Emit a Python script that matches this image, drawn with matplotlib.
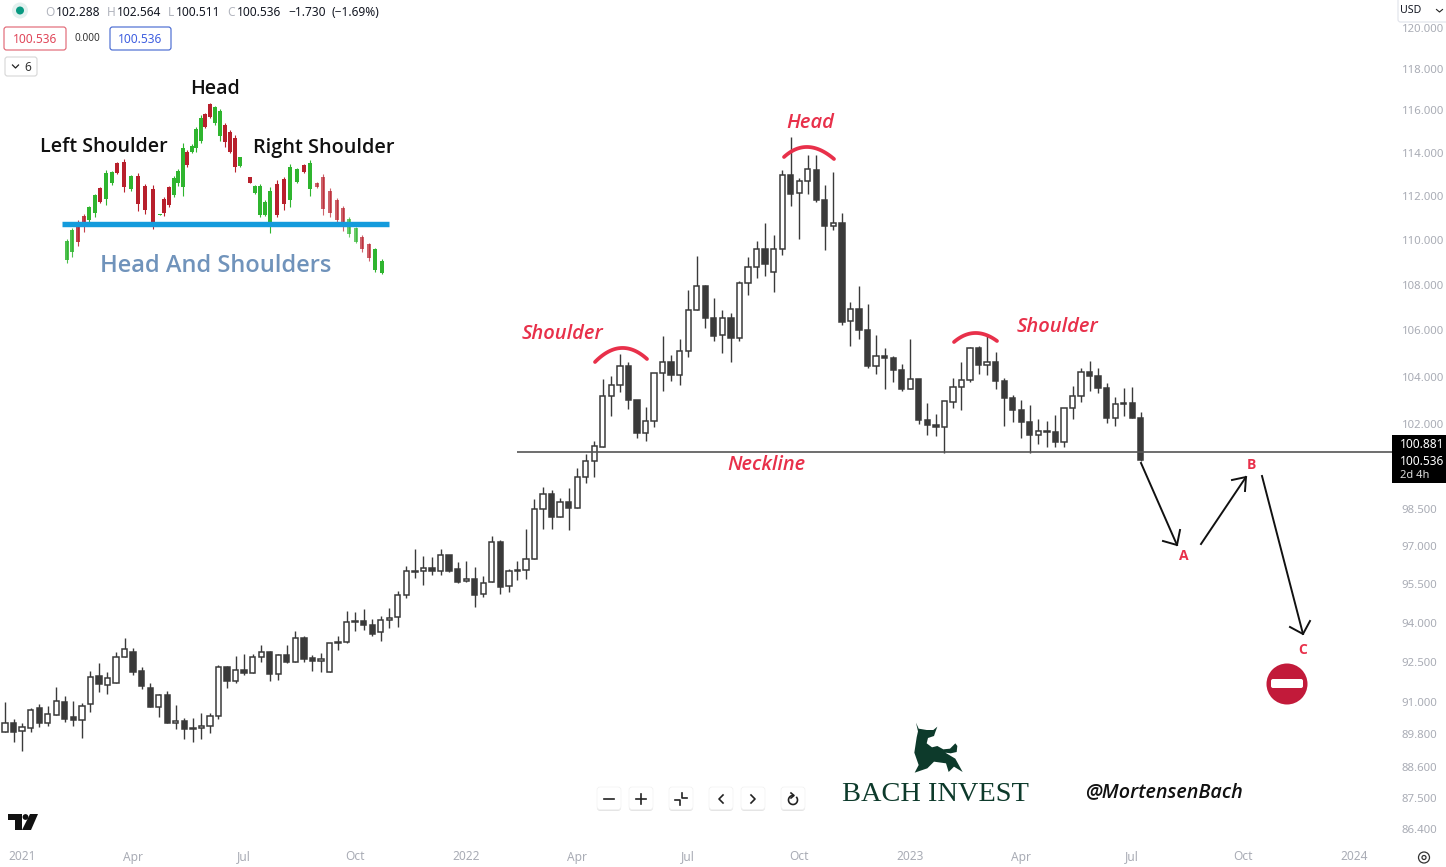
import matplotlib
matplotlib.use("Agg")
import matplotlib.pyplot as plt
from matplotlib.patches import FancyBboxPatch, Circle, Polygon, Rectangle
from matplotlib.transforms import ScaledTranslation
import numpy as np

opens = [89.93,90.26,89.96,90.08,90.82,90.26,90.56,91.04,90.48,90.37,
90.96,92.02,91.68,91.76,92.74,92.93,92.21,91.57,90.85,91.31,
90.26,90.33,90.08,90.08,90.15,90.52,92.36,91.83,92.25,92.14,
92.74,92.93,92.10,92.81,92.55,93.47,92.71,92.60,92.18,93.31,
93.30,94.12,94.12,93.96,93.68,94.16,94.27,95.12,96.07,96.07,
96.19,96.07,96.70,96.15,95.67,95.75,95.16,95.63,97.22,95.48,
96.11,96.11,96.54,98.54,99.14,98.24,98.82,98.58,99.84,100.50,
101.10,103.21,103.68,104.49,103.04,101.66,102.16,104.19,104.66,104.11,
105.13,106.92,107.98,106.57,105.83,106.57,105.70,108.11,108.83,109.63,
108.60,109.63,113.01,112.18,112.73,113.24,111.86,110.67,110.81,106.44,
106.96,106.04,104.49,104.92,104.83,104.32,103.51,103.94,102.20,102.00,
101.91,102.99,103.60,103.89,105.26,104.54,104.66,103.85,103.13,102.63,
102.12,101.58,101.74,101.70,101.28,102.71,103.21,104.24,104.06,103.55,
102.29,102.91,102.91,102.288]
highs = [91.04,90.42,90.26,90.82,90.96,90.90,91.62,91.28,91.09,91.00,
92.22,92.53,92.19,92.93,93.46,93.08,92.36,91.76,91.34,91.46,
90.94,90.45,90.45,90.63,90.63,92.44,92.40,92.78,92.85,92.85,
93.19,92.96,92.85,93.19,93.73,93.53,92.81,92.90,93.27,93.55,
94.50,94.48,94.58,94.21,94.31,94.62,95.29,96.27,96.95,96.66,
96.63,96.95,96.70,96.44,96.46,96.23,95.87,97.46,97.31,96.15,
96.46,97.74,98.94,99.43,99.31,98.98,99.39,100.21,100.78,101.32,
103.94,104.06,105.00,104.66,103.04,102.75,104.19,105.78,104.96,105.65,
107.80,109.32,108.02,107.44,106.92,106.79,108.20,109.27,109.99,110.81,
110.26,113.24,114.78,112.87,113.94,113.94,112.55,113.15,111.26,107.27,
107.98,107.18,105.83,105.26,104.92,104.57,105.65,103.94,102.91,102.45,
103.00,103.98,104.66,105.30,105.35,105.87,105.09,103.98,103.25,103.04,
102.85,102.25,102.16,102.42,102.71,103.64,104.41,104.71,104.41,103.77,
103.17,103.55,103.60,102.564]
lows = [89.93,89.55,89.25,89.95,90.10,90.14,90.56,90.29,90.17,89.73,
90.69,91.41,91.33,91.76,92.74,92.05,91.52,90.85,90.47,90.25,
90.03,89.69,89.58,89.69,89.88,90.40,91.56,91.75,92.05,92.14,
92.54,91.82,91.86,92.50,92.55,92.56,92.21,92.18,92.18,93.02,
93.26,93.72,93.78,93.53,93.34,93.87,93.91,95.00,95.78,95.54,
95.90,95.90,96.02,95.62,95.66,94.68,95.06,95.63,95.19,95.23,
95.70,95.74,96.54,97.76,97.76,98.22,97.72,98.58,99.62,99.87,
101.08,102.40,103.41,102.69,101.48,101.35,101.90,103.45,103.88,103.71,
104.87,106.92,106.16,105.59,105.07,104.69,105.59,107.61,108.34,108.42,
107.71,109.39,111.61,110.08,112.16,111.76,109.59,110.49,106.29,105.38,
105.68,104.40,104.15,103.51,103.81,103.42,103.51,102.04,101.58,101.53,
100.85,102.71,102.63,103.81,104.15,104.11,103.51,101.95,102.12,101.45,
100.82,101.20,101.08,101.08,101.08,102.25,102.98,103.42,103.34,102.08,
101.95,102.37,102.29,100.511]
closes = [90.26,89.95,90.11,90.74,90.25,90.59,91.08,90.43,90.36,90.89,
91.98,91.71,91.95,92.74,93.04,92.16,91.63,90.85,91.31,90.25,
90.33,90.03,90.03,90.15,90.52,92.36,91.82,92.25,92.12,92.74,
92.93,92.09,92.81,92.55,93.46,92.67,92.60,92.66,93.27,93.26,
94.08,94.07,93.95,93.61,94.16,94.23,95.12,96.07,96.04,96.19,
96.07,96.70,96.07,95.66,95.75,95.15,95.62,97.22,95.46,96.07,
96.06,96.54,98.54,99.14,98.24,98.82,98.58,99.84,100.50,101.11,
103.21,103.68,104.49,103.04,101.65,102.15,104.19,104.66,104.11,105.13,
106.92,107.98,106.57,105.81,106.57,105.70,108.11,108.83,109.63,108.96,
109.63,113.01,112.16,112.73,113.29,111.86,110.66,110.81,106.42,106.96,
106.04,104.49,104.92,104.83,104.32,103.51,103.94,102.20,102.00,101.91,
103.00,103.60,103.89,105.26,104.54,104.66,103.85,103.13,102.63,102.12,
101.58,101.74,101.69,101.28,102.71,103.21,104.24,104.06,103.55,102.29,
102.87,102.87,102.29,100.536]

price_ticks = [120,118,116,114,112,110,108,106,104,102,98.5,97,95.5,94,92.5,91,89.8,88.6,87.5,86.4]
time_ticks = [2,15,28,41,54,67,80,93,106,119,132,145,158]
time_labels = ["2021","Apr","Jul","Oct","2022","Apr","Jul","Oct","2023","Apr","Jul","Oct","2024"]
neckline = 100.881
last_close = 100.536

# inset picture (Head And Shoulders example): levels on its own downward scale
inset_pos = [35,52,69,86,102,119,136,153,170,186,207,228,249,271,293,315,328,342,356,369,383,397,411,424,438,451,465,479,495,
510,524,540,554,584,599,614,629,646,666,687,706,727,746,766,785,805,825,845,864,883,903,922,942,961,980]
inset_top = [423,391,382,348,322,285,265,218,216,190,185,228,228,258,268,341,296,262,233,213,145,155,137,87,53,42,12,22,33,
75,95,113,172,232,258,258,305,272,252,236,202,208,196,188,248,232,272,300,325,358,385,410,433,448,482]
inset_bot = [480,457,427,380,360,340,305,297,248,220,262,267,313,330,366,344,340,315,285,250,260,195,155,145,122,80,50,70,107,
125,155,200,197,248,280,345,345,366,345,312,300,246,216,268,262,326,338,360,368,403,425,447,475,510,518]
inset_high = [418,385,360,343,318,282,262,210,213,187,177,224,220,253,255,341,292,258,228,208,130,150,132,80,45,38,10,18,28,
70,90,105,170,232,256,252,300,262,240,230,192,205,192,180,245,222,265,295,318,350,380,405,428,443,478]
inset_low = [490,470,437,397,365,350,310,315,255,222,275,272,332,342,388,344,348,322,292,258,287,200,158,155,128,85,54,74,122,
140,160,215,200,250,282,352,348,398,352,330,320,250,218,288,265,345,350,365,392,412,430,455,482,515,522]
inset_up = [1,1,0,0,1,1,0,1,1,0,0,1,0,0,0,1,0,0,1,1,1,0,1,1,1,0,0,1,1,
0,0,0,1,0,1,1,1,1,0,0,1,1,0,1,0,0,0,0,0,1,1,0,0,1,1]

W, H = 1446, 867
plt.rcParams['font.family'] = ['Noto Sans', 'DejaVu Sans']
fig = plt.figure(figsize=(W/100, H/100), dpi=100, facecolor='white')

def px_axes(l, t, r, b):
    return fig.add_axes([l/W, 1-b/H, (r-l)/W, (b-t)/H])

# ---- main price chart
ax = px_axes(0, 0, 1392, 843)
ax.set_yscale('log')
ax.set_ylim(85.93, 121.43)
ax.set_xlim(-0.585, 162.41)
x = np.arange(len(opens))
o, h, l, c = map(np.array, (opens, highs, lows, closes))
ink = '#3a3a3a'
ax.vlines(x, l, h, color=ink, lw=1.0, zorder=2)
up = c >= o
ax.bar(x[up], np.maximum(c-o, .02)[up], bottom=o[up], width=0.62, facecolor='white', edgecolor=ink, lw=1.1, zorder=3)
ax.bar(x[~up], np.maximum(o-c, .02)[~up], bottom=c[~up], width=0.62, facecolor=ink, edgecolor=ink, lw=1.1, zorder=3)
ax.hlines(neckline, 60, 162.41, color='#555555', lw=1.2, zorder=4)
for s in ax.spines.values():
    s.set_visible(False)
ax.set_yticks(price_ticks)
ax.set_yticklabels([f"{v:.3f}" for v in price_ticks])
ax.minorticks_off()
ax.yaxis.tick_right()
ax.tick_params(axis='y', which='both', length=0, pad=7, labelsize=8.2, labelcolor='#a9acb5')
for lab in ax.get_yticklabels():
    lab.set_transform(lab.get_transform() + ScaledTranslation(0, 1.2/100, fig.dpi_scale_trans))
ax.set_xticks(time_ticks)
ax.set_xticklabels(time_labels)
ax.tick_params(axis='x', length=0, pad=5.4, labelsize=8.6, labelcolor='#a9acb5')
ax.patch.set_alpha(0)

# ---- inset example
ins = px_axes(55, 100, 400, 275)
ins.set_xlim(0, 1035)
ins.set_ylim(525, 0)
ins.axis('off')
green, red = '#2fb52f', '#b8202c'
for i, p in enumerate(inset_pos):
    col = green if inset_up[i] else red
    faded = 44 <= i <= 52
    a = 0.7 if faded else 1.0
    if i < 4:
        a = 0.85
    ins.vlines(p, inset_high[i], inset_low[i], color=col, lw=0.8, alpha=a, zorder=2)
    ins.add_patch(Rectangle((p-6, inset_top[i]), 12, inset_bot[i]-inset_top[i], fc=col, ec='none', alpha=a, zorder=2))
ins.hlines(372, 21, 1002, color='#149bdc', lw=3.9, zorder=3)

# ---- overlay in pixels
ov = fig.add_axes([0, 0, 1, 1])
ov.set_xlim(0, W)
ov.set_ylim(H, 0)
ov.axis('off')
ov.patch.set_alpha(0)

def txt(xp, yp, s, size=8.6, color='#131722', ha='center', **kw):
    return ov.text(xp, yp + size*0.14, s, fontsize=size, color=color, ha=ha, va='center', **kw)

# inset labels
kw = dict(family=['Open Sans'], weight='semibold')
txt(215, 87, "Head", 14.1, '#111111', **kw)
txt(104, 145, "Left Shoulder", 14.1, '#111111', **kw)
txt(324, 146, "Right Shoulder", 14.3, '#111111', **kw)
txt(216, 264, "Head And Shoulders", 17.0, '#7093bb', **kw)

# header
ov.add_patch(Circle((20, 10.5), 8, fc='#e3f1ef', ec='none'))
ov.add_patch(Circle((20, 10.5), 4, fc='#089981', ec='none'))
grey = '#b2b5be'
for xp, s, col in [(45,"O",grey),(56,"102.288",'#131722'),(107,"H",grey),(117,"102.564",'#131722'),
                   (168,"L",grey),(176,"100.511",'#131722'),(227,"C",grey),(237,"100.536",'#131722'),
                   (288,"\u22121.730",'#131722'),(332,"(\u22121.69%)",'#131722')]:
    txt(xp, 11, s, 8.6, col, ha='left')

def box(l, t, r, b, ec='#cccccc', fc='white', lw=0.8, rad=2.5, z=5):
    p = FancyBboxPatch((l+rad, t+rad), r-l-2*rad, b-t-2*rad, boxstyle=f"round,pad={rad}",
                       fc=fc, ec=ec, lw=lw, zorder=z)
    ov.add_patch(p)

box(4, 27, 66, 50, ec='#e0606e')
txt(35, 38, "100.536", 8.6, '#e0475a', zorder=6)
txt(87, 37.5, "0.000", 7.2, '#333333')
box(110, 27, 171, 50, ec='#3f63d0')
txt(140.5, 38, "100.536", 8.6, '#3f5fe0', zorder=6)
box(5, 57, 37, 76, ec='#d6d6d6')
ov.plot([12.5, 15.5, 18.5], [65, 68, 65], color='#222222', lw=0.9, zorder=6)
txt(28, 66, "6", 8.6, '#333333', zorder=6)

# right scale widgets
box(1398, -4, 1450, 22, ec='#e0e3eb')
txt(1411, 9.5, "USD", 7.6, '#131722', zorder=6)
ov.plot([1436.5, 1439.5, 1442.5], [9.5, 12, 9.5], color='#222222', lw=0.8, zorder=6)
ov.add_patch(Rectangle((1392, 435), 54, 48, fc='black', ec='none', zorder=5))
txt(1422, 443, "100.881", 8.6, 'white', zorder=6, weight='bold')
txt(1422, 460, "100.536", 8.6, 'white', zorder=6, weight='bold')
txt(1415, 474, "2d 4h", 8.0, '#dddddd', zorder=6)

# red annotations
rd = '#e8304a'
ital = dict(family=['Open Sans'], style='italic', weight='semibold')
txt(562, 332, "Shoulder", 14.5, rd, **ital)
txt(810, 121, "Head", 14.5, rd, **ital)
txt(1057, 325, "Shoulder", 14.5, rd, **ital)
txt(766, 463, "Neckline", 14.4, rd, **ital)

def arc(x0, y0, xm, ym, x1, y1):
    t = np.linspace(0, 1, 40)
    bx = 2*xm - .5*(x0+x1)
    by = 2*ym - .5*(y0+y1)
    ov.plot((1-t)**2*x0 + 2*t*(1-t)*bx + t**2*x1, (1-t)**2*y0 + 2*t*(1-t)*by + t**2*y1,
            color=rd, lw=2.7, solid_capstyle='round', zorder=6)
arc(595, 362, 621, 348, 647, 359)
arc(784, 157, 808, 147, 834, 159)
arc(954, 342, 975, 333, 997, 341)

# projected path arrows
def arrow(x0, y0, x1, y1, b1, b2):
    ov.plot([x0, x1], [y0, y1], color='#111111', lw=1.4, zorder=6)
    ov.plot([b1[0], x1, b2[0]], [b1[1], y1, b2[1]], color='#111111', lw=1.4, zorder=6)
arrow(1141, 463, 1177, 545, (1163, 541), (1180, 530))
arrow(1201, 544, 1246, 477, (1232, 480), (1245, 491))
arrow(1262, 476, 1303, 634, (1290, 627), (1310, 621))
bd = dict(family=['Open Sans'], weight='bold')
txt(1184, 555, "A", 10, rd, **bd)
txt(1251, 464, "B", 10, rd, **bd)
txt(1303, 649, "C", 10, rd, **bd)

# stop sign
ov.add_patch(Circle((1287, 684), 20.5, fc='#c21a3a', ec='none', zorder=6))
ov.add_patch(FancyBboxPatch((1273, 681), 28, 5, boxstyle="round,pad=2", fc='white', ec='none', zorder=7))

# chart buttons
for l_, glyph in [(597,'minus'),(629,'plus'),(669,'fit'),(709,'lt'),(741,'gt'),(781,'reset')]:
    ov.add_patch(FancyBboxPatch((l_+3, 790), 18, 18, boxstyle="round,pad=3", fc='#000000', ec='none', alpha=0.10, zorder=4))
    box(l_, 787, l_+24, 809.5, ec='#f2f2f2', lw=0.5, rad=3)
    cx, cy = l_+12, 799
    kw2 = dict(color='#222222', lw=1.2, zorder=6)
    if glyph in ('minus', 'plus'):
        ov.plot([cx-5, cx+5], [cy, cy], **kw2)
    if glyph == 'plus':
        ov.plot([cx, cx], [cy-5, cy+5], **kw2)
    if glyph == 'fit':
        ov.plot([cx-6, cx-1, cx-1], [cy+1, cy+1, cy+6], **kw2)
        ov.plot([cx+1, cx+1, cx+6], [cy-6, cy-1, cy-1], **kw2)
    if glyph == 'lt':
        ov.plot([cx+2, cx-2, cx+2], [cy-4, cy, cy+4], **kw2)
    if glyph == 'gt':
        ov.plot([cx-2, cx+2, cx-2], [cy-4, cy, cy+4], **kw2)
    if glyph == 'reset':
        th = np.linspace(-0.6, 4.6, 40)
        ov.plot(cx+4.5*np.cos(th), cy+1+4.5*np.sin(th), **kw2)
        ov.plot([cx-2, cx+1, cx-2], [cy-6, cy-3.5, cy-1], **kw2)

# logo
dk = '#0d3a2b'
bull = [(1008,38),(1016,56),(1040,60),(1060,60),(1072,50),(1066,66),(1062,78),(1044,84),(1040,100),(1056,112),(1072,108),(1090,118),
        (1110,116),(1126,100),(1132,108),(1130,126),(1112,130),(1096,128),(1126,146),(1148,186),(1122,170),(1106,186),
        (1098,160),(1062,155),(1042,175),(1004,188),(1016,165),(1003,128),(1010,82),(1014,64)]
ov.add_patch(Polygon([(580+a/3, 710+b/3) for a, b in bull], closed=True, fc=dk, ec='none', zorder=5))
txt(935.5, 792, "BACH INVEST", 20.4, dk, family=['Liberation Serif'])
txt(1164, 790, "@MortensenBach", 14.2, '#111111', family=['Open Sans'], style='italic', weight='semibold')

# TradingView mark
ov.add_patch(Polygon([(8,814),(22,814),(22,830),(15,830),(15,820),(8,820)], closed=True, fc='#111111', ec='none'))
ov.add_patch(Circle((25.5, 817), 2.9, fc='#111111', ec='none'))
ov.add_patch(Polygon([(30,814),(38,814),(31,830),(22,830)], closed=True, fc='#111111', ec='none'))

# settings glyph
ov.add_patch(Circle((1424, 857.5), 5.5, fc='none', ec='#333333', lw=0.9))
ov.add_patch(Circle((1424, 857.5), 2, fc='none', ec='#333333', lw=0.9))

fig.savefig("out.png", dpi=100, facecolor='white')
